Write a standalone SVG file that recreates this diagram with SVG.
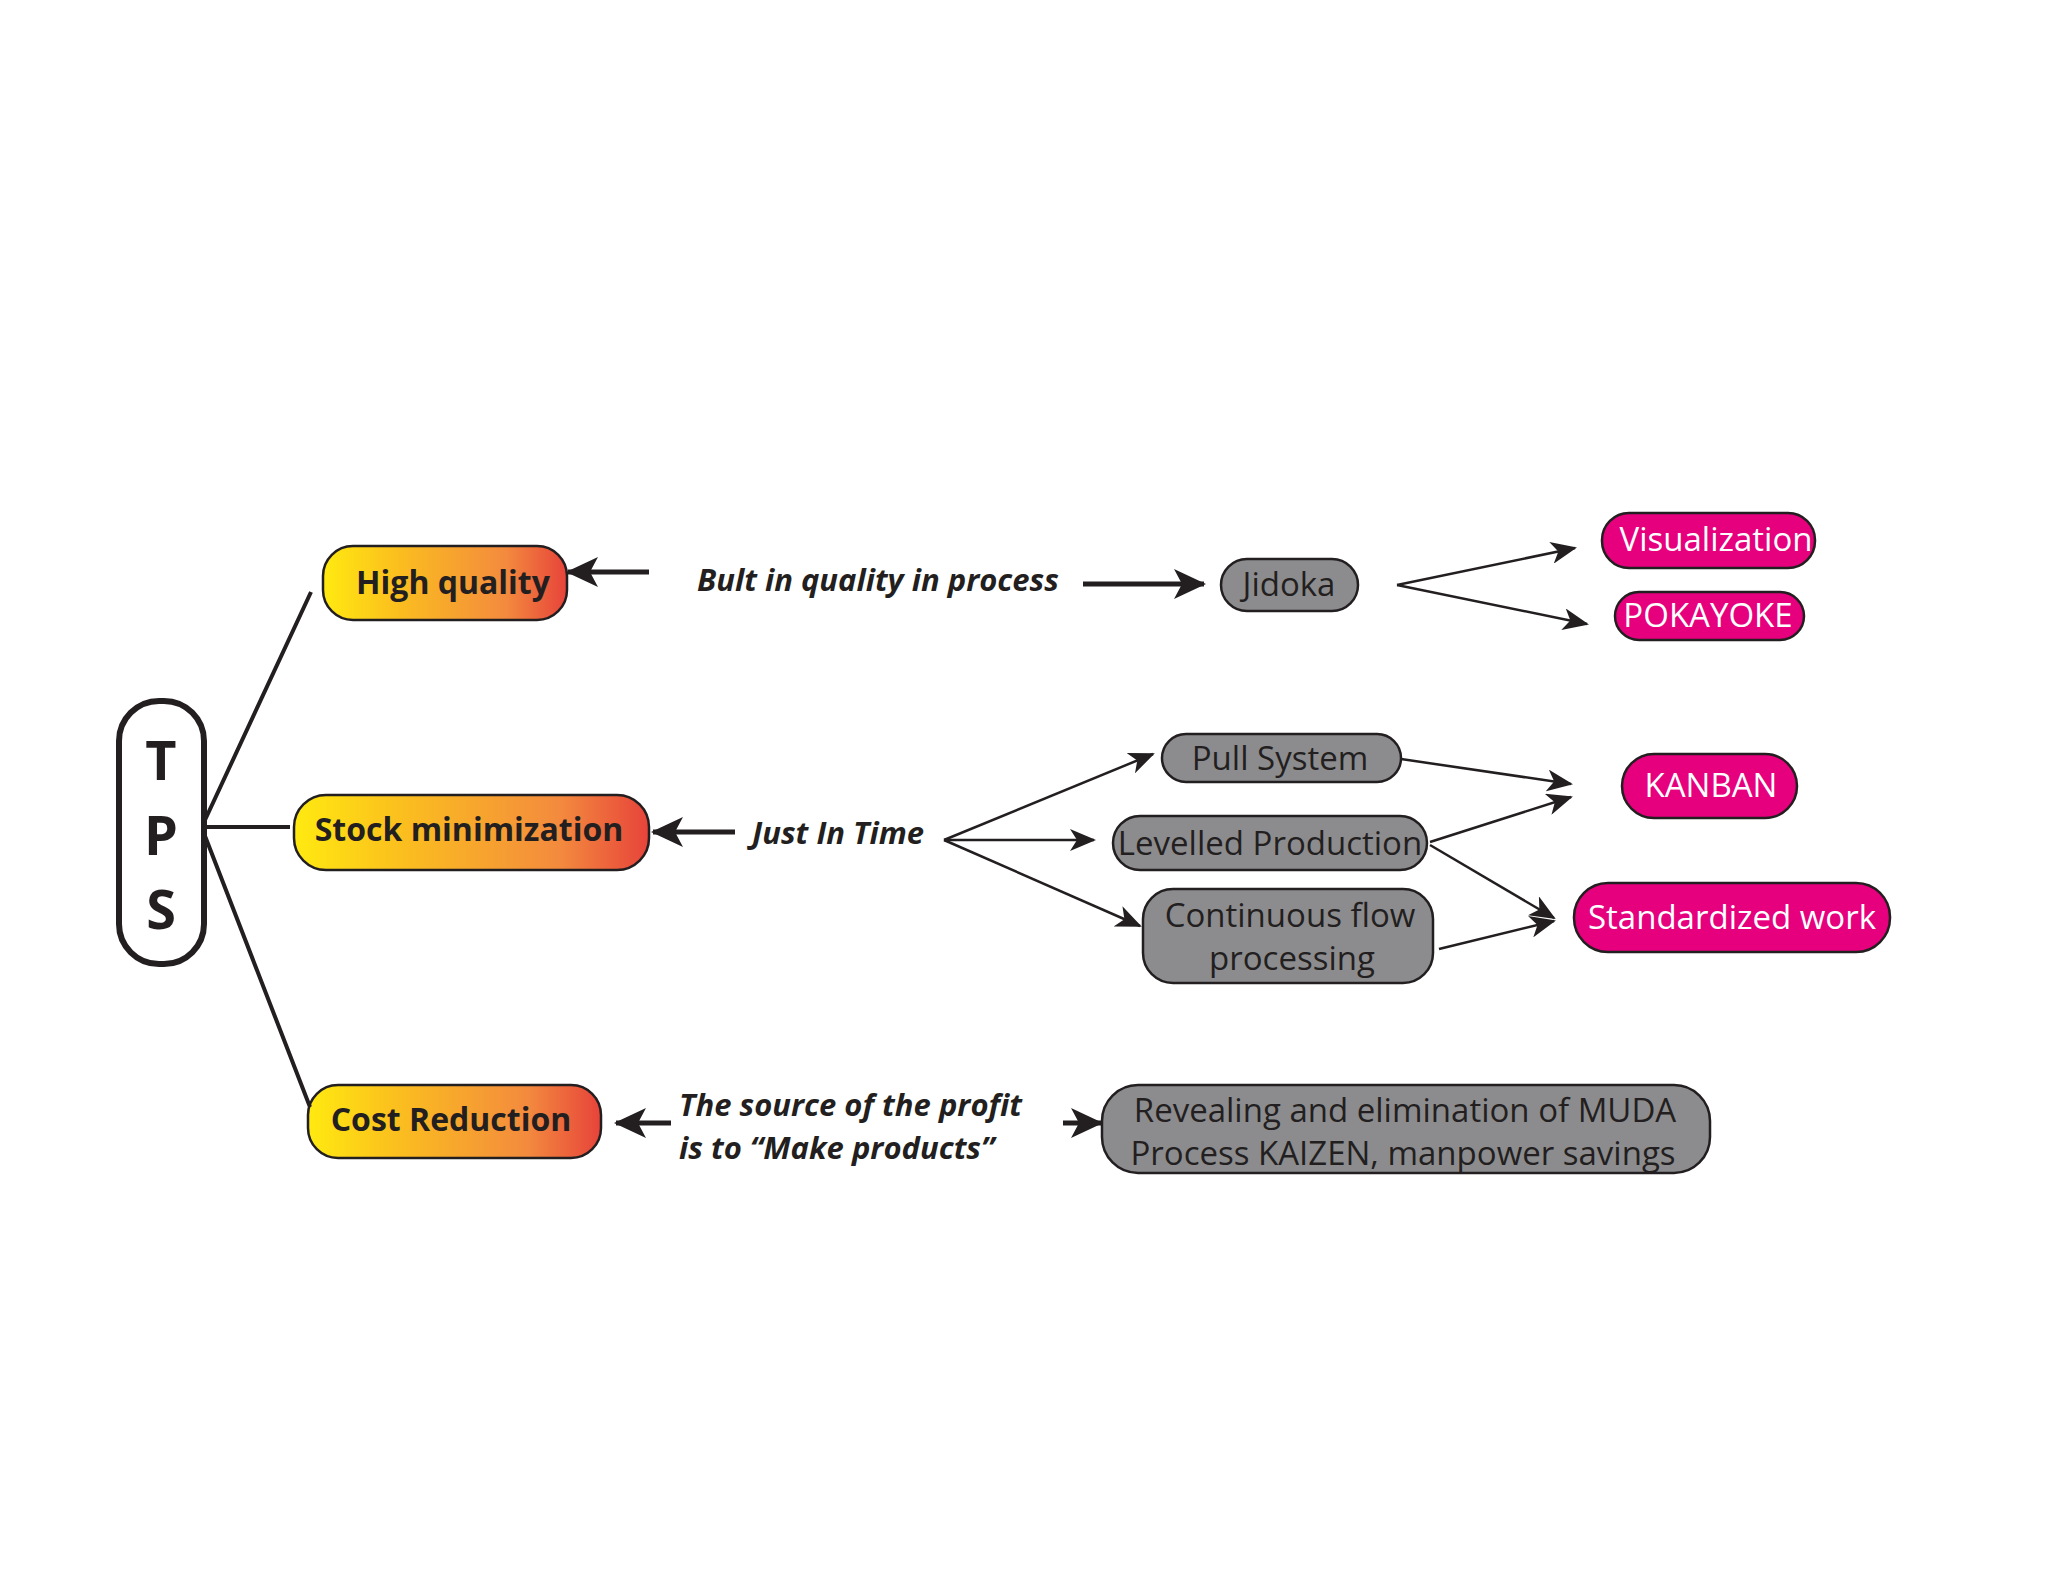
<svg xmlns="http://www.w3.org/2000/svg" width="2048" height="1582" viewBox="0 0 2048 1582">
<defs>
<linearGradient id="g" x1="0" y1="0" x2="1" y2="0">
<stop offset="0" stop-color="#ffea10"/><stop offset="0.3" stop-color="#fbbf1e"/><stop offset="0.75" stop-color="#f38a3e"/><stop offset="1" stop-color="#e7433a"/>
</linearGradient>
<marker id="ab" markerUnits="userSpaceOnUse" markerWidth="34" markerHeight="30" refX="30" refY="15" orient="auto"><path d="M0,0 L32,15 L0,30 L8,15 Z" fill="#231f20"/></marker>
<marker id="as" markerUnits="userSpaceOnUse" markerWidth="26" markerHeight="22" refX="24" refY="11" orient="auto"><path d="M0,0 L26,11 L0,22 L7,11 Z" fill="#231f20"/></marker>
<style>
.o{fill:url(#g);stroke:#231f20;stroke-width:2.5}
.gr{fill:#8c8c8e;stroke:#231f20;stroke-width:2.5}
.m{fill:#e6007e;stroke:#231f20;stroke-width:2.5}
.bt{font-family:"Open Sans","DejaVu Sans",sans-serif;font-weight:bold;fill:#231f20;text-anchor:middle}
.lt{font-family:"Open Sans","DejaVu Sans",sans-serif;font-weight:bold;font-style:italic;fill:#231f20;text-anchor:middle;font-size:31px}
.gt{font-family:"Open Sans","DejaVu Sans",sans-serif;fill:#231f20;text-anchor:middle;font-size:33px}
.wt{font-family:"Open Sans","DejaVu Sans",sans-serif;fill:#fff;text-anchor:middle;font-size:33px}
.k{stroke:#231f20;fill:none}
</style>
</defs>
<rect width="2048" height="1582" fill="#fff"/>
<g id="TPS"><rect x="119" y="701" width="85" height="263" rx="40" fill="#fff" stroke="#231f20" stroke-width="6"/>
<text class="bt" x="161" y="780" font-size="54">T</text><text class="bt" x="161" y="855" font-size="54">P</text><text class="bt" x="161" y="929" font-size="54">S</text></g>
<g id="high"><rect class="o" x="323" y="546" width="244" height="74" rx="30"/><text class="bt" x="453" y="594" font-size="32">High quality</text></g>
<g id="stock"><rect class="o" x="294" y="795" width="355" height="75" rx="32"/><text class="bt" x="469" y="841" font-size="32">Stock minimization</text></g>
<g id="cost"><rect class="o" x="308" y="1085" width="293" height="73" rx="30"/><text class="bt" x="451" y="1131" font-size="32">Cost Reduction</text></g>
<g id="jidoka"><rect class="gr" x="1221" y="559" width="137" height="52" rx="26"/><text class="gt" x="1289" y="596">Jidoka</text></g>
<g id="vis"><rect class="m" x="1602" y="513" width="213" height="55" rx="27"/><text class="wt" x="1716" y="551">Visualization</text></g>
<g id="poka"><rect class="m" x="1615" y="592" width="189" height="48" rx="24"/><text class="wt" x="1708" y="627">POKAYOKE</text></g>
<g id="pull"><rect class="gr" x="1162" y="734" width="239" height="48" rx="24"/><text class="gt" x="1280" y="770">Pull System</text></g>
<g id="lev"><rect class="gr" x="1113" y="816" width="314" height="54" rx="27"/><text class="gt" x="1270" y="855">Levelled Production</text></g>
<g id="cont"><rect class="gr" x="1143" y="889" width="290" height="94" rx="30"/><text class="gt" x="1290" y="927">Continuous flow</text><text class="gt" x="1292" y="970">processing</text></g>
<g id="kanban"><rect class="m" x="1622" y="754" width="175" height="64" rx="32"/><text class="wt" x="1711" y="797">KANBAN</text></g>
<g id="std"><rect class="m" x="1574" y="883" width="316" height="69" rx="34"/><text class="wt" x="1732" y="929">Standardized work</text></g>
<g id="muda"><rect class="gr" x="1102" y="1085" width="608" height="88" rx="36"/><text class="gt" x="1405" y="1122">Revealing and elimination of MUDA</text><text class="gt" x="1403" y="1165">Process KAIZEN, manpower savings</text></g>
<g id="labels">
<text class="lt" x="878" y="591">Bult in quality in process</text>
<text class="lt" x="838" y="844">Just In Time</text>
<text class="lt" x="679" y="1116" text-anchor="start" style="text-anchor:start">The source of the profit</text>
<text class="lt" x="679" y="1159" style="text-anchor:start">is to “Make products”</text>
</g>
<g id="connectors">
<path class="k" stroke-width="4" d="M205,820 L311,592 M205,827 L290,827 M205,836 L310,1107"/>
<path class="k" stroke-width="5" d="M649,572 L568,572" marker-end="url(#ab)"/>
<path class="k" stroke-width="5" d="M1083,584 L1204,584" marker-end="url(#ab)"/>
<path class="k" stroke-width="5" d="M735,832 L653,832" marker-end="url(#ab)"/>
<path class="k" stroke-width="5" d="M671,1123 L616,1123" marker-end="url(#ab)"/>
<path class="k" stroke-width="5" d="M1063,1123 L1101,1123" marker-end="url(#ab)"/>
<path class="k" stroke-width="2.5" d="M1397,585 L1575,548" marker-end="url(#as)"/>
<path class="k" stroke-width="2.5" d="M1397,585 L1587,624" marker-end="url(#as)"/>
<path class="k" stroke-width="2.5" d="M944,840 L1153,754" marker-end="url(#as)"/>
<path class="k" stroke-width="2.5" d="M944,840 L1094,840" marker-end="url(#as)"/>
<path class="k" stroke-width="2.5" d="M944,840 L1140,926" marker-end="url(#as)"/>
<path class="k" stroke-width="2.5" d="M1401,759 L1571,784" marker-end="url(#as)"/>
<path class="k" stroke-width="2.5" d="M1430,842 L1571,797" marker-end="url(#as)"/>
<path class="k" stroke-width="2.5" d="M1430,845 L1554,918" marker-end="url(#as)"/>
<path class="k" stroke-width="2.5" d="M1439,949 L1554,921" marker-end="url(#as)"/>
</g>
</svg>
